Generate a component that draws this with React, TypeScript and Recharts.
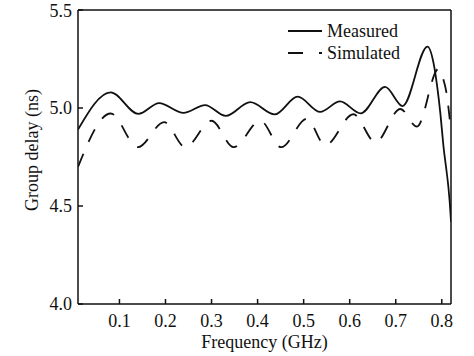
import { LineChart, Line, XAxis, YAxis, ReferenceLine, Label } from 'recharts';

// measured group delay (ns) vs frequency (GHz)
const measuredFreq = [0.01, 0.081, 0.141, 0.186, 0.239, 0.286, 0.331, 0.384, 0.437, 0.487, 0.536, 0.579, 0.624, 0.677, 0.715, 0.769, 0.782, 0.79, 0.797, 0.803, 0.819, 0.82];
const measuredDelay = [4.89, 5.08, 4.97, 5.025, 4.975, 5.015, 4.96, 5.03, 4.967, 5.058, 4.98, 5.034, 4.973, 5.108, 5.01, 5.313, 5.23, 5.11, 4.97, 4.82, 4.46, 4.42];

// simulated
const simulatedFreq = [0.01, 0.081, 0.14, 0.197, 0.243, 0.3, 0.348, 0.406, 0.451, 0.507, 0.547, 0.608, 0.656, 0.71, 0.746, 0.793, 0.803, 0.81, 0.816, 0.82];
const simulatedDelay = [4.7, 4.972, 4.8, 4.928, 4.8, 4.935, 4.8, 4.935, 4.8, 4.945, 4.81, 4.968, 4.825, 4.995, 4.905, 5.2, 5.15, 5.08, 4.97, 4.88];

const seriesNames = ['Measured', 'Simulated'];
const xTicks = [0.1, 0.2, 0.3, 0.4, 0.5, 0.6, 0.7, 0.8];
const yTicks = [4.0, 4.5, 5.0, 5.5];

const measured = measuredFreq.map((f, i) => ({ f, v: measuredDelay[i] }));
const simulated = simulatedFreq.map((f, i) => ({ f, v: simulatedDelay[i] }));

const FONT = '"Liberation Serif", "Times New Roman", serif';
const INK = '#111';

// legend drawn as an overlay so it doesn't eat into the plot area
const LegendBox = () => (
    <div style={{ position: 'absolute', left: 288, top: 20, fontFamily: FONT, fontSize: 18, color: INK, lineHeight: '22px' }}>
        {seriesNames.map((name, i) => (
            <div key={name} style={{ display: 'flex', alignItems: 'center', height: 22 }}>
                <svg width={39} height={10}>
                    <line
                        x1={0} y1={5} x2={34} y2={5}
                        stroke={INK} strokeWidth={1.8}
                        strokeDasharray={i === 1 ? '15 16 5' : undefined}
                    />
                </svg>
                <span>{name}</span>
            </div>
        ))}
    </div>
);

const App = () => {
    return (
        <div style={{ position: 'absolute', left: 0, top: 0, width: 474, height: 356 }}>
            <LineChart width={474} height={356} margin={{ top: 10, right: 23, bottom: 0, left: 0 }}>
                <XAxis
                    type="number"
                    dataKey="f"
                    domain={[0.01, 0.82]}
                    ticks={xTicks}
                    allowDataOverflow
                    height={52}
                    tickFormatter={(v: number) => v.toFixed(1)}
                    tick={{ fontFamily: FONT, fontSize: 18, fill: INK }}
                    tickSize={-5}
                    tickMargin={15}
                    axisLine={{ stroke: INK, strokeWidth: 1.5 }}
                    tickLine={{ stroke: INK, strokeWidth: 1.5 }}
                >
                    <Label
                        content={({ viewBox }: any) => (
                            <text x={viewBox.x + viewBox.width / 2} y={viewBox.y + 44} textAnchor="middle"
                                fontFamily={FONT} fontSize={18} fill={INK}>
                                Frequency (GHz)
                            </text>
                        )}
                    />
                </XAxis>
                <YAxis
                    type="number"
                    dataKey="v"
                    domain={[4.0, 5.5]}
                    ticks={yTicks}
                    allowDataOverflow
                    width={78}
                    tickFormatter={(v: number) => v.toFixed(1)}
                    tick={{ fontFamily: FONT, fontSize: 18, fill: INK }}
                    tickSize={-5}
                    tickMargin={11}
                    axisLine={{ stroke: INK, strokeWidth: 1.5 }}
                    tickLine={{ stroke: INK, strokeWidth: 1.5 }}
                >
                    <Label
                        content={({ viewBox }: any) => {
                            const cx = viewBox.x + 32;
                            const cy = viewBox.y + viewBox.height / 2 - 7;
                            return (
                                <text x={cx} y={cy} textAnchor="middle" dominantBaseline="central"
                                    transform={`rotate(-90 ${cx} ${cy})`}
                                    fontFamily={FONT} fontSize={18} fill={INK}>
                                    Group delay (ns)
                                </text>
                            );
                        }}
                    />
                </YAxis>
                <ReferenceLine y={5.5} stroke={INK} strokeWidth={1.5} />
                <ReferenceLine x={0.82} stroke={INK} strokeWidth={1.5} />
                <Line
                    data={measured}
                    dataKey="v"
                    name={seriesNames[0]}
                    type="monotone"
                    stroke={INK}
                    strokeWidth={1.8}
                    dot={false}
                    isAnimationActive={false}
                />
                <Line
                    data={simulated}
                    dataKey="v"
                    name={seriesNames[1]}
                    type="monotone"
                    stroke={INK}
                    strokeWidth={1.8}
                    strokeDasharray="14 13"
                    dot={false}
                    isAnimationActive={false}
                />
            </LineChart>
            <LegendBox />
        </div>
    );
};

export default App;
